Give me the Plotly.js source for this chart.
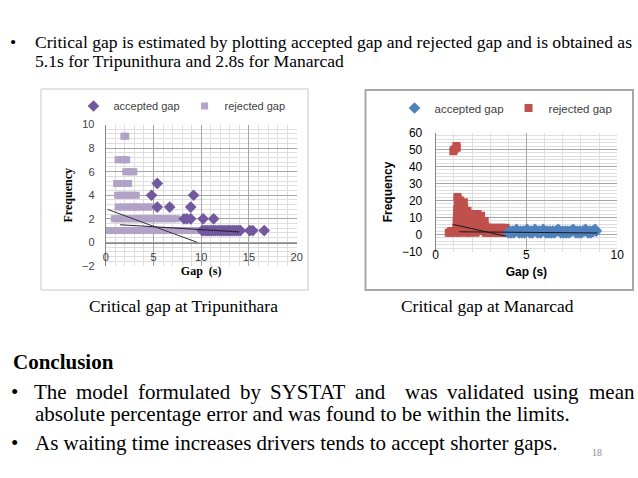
<!DOCTYPE html>
<html>
<head>
<meta charset="utf-8">
<script src="https://cdn.plot.ly/plotly-3.0.1.min.js"></script>
<style>html,body{margin:0;padding:0;background:#fff;}#chart{width:638px;height:478px;}</style>
</head>
<body>
<div id="chart"></div>
<script>
// ---------- Tripunithara (left chart) ----------
const gapsRejT = [
  1.9, 2.1,
  1.3, 1.6, 1.9, 2.2,
  2.1, 2.4, 2.7, 2.95,
  1.15, 1.45, 1.8, 2.1, 2.4,
  1.25, 1.55, 1.9, 2.2, 2.5, 2.8, 3.2,
  1.3, 1.6, 1.9, 2.3, 2.6, 2.9, 3.2, 3.5, 3.9, 4.2, 4.5, 4.8,
  0.9, 1.2, 1.5, 1.8, 2.1, 2.4, 2.7, 3.0, 3.3, 3.6, 3.9, 4.2, 4.5, 4.8, 5.1, 5.4, 5.7, 6.0, 6.3, 6.7, 7.0, 7.4,
  0.25, 0.55, 0.85, 1.15, 1.4, 1.7, 2.0, 2.3, 2.6, 2.9, 3.2, 3.5, 3.8, 4.1, 4.4, 4.7, 5.0, 5.3, 5.6, 5.9, 6.2, 6.5, 6.8, 7.1, 7.4, 7.7, 8.0, 8.3, 8.6, 8.9, 9.2, 9.5, 9.85
];
const freqRejT = [
  9, 9,
  7, 7, 7, 7,
  6, 6, 6, 6,
  5, 5, 5, 5, 5,
  4, 4, 4, 4, 4, 4, 4,
  3, 3, 3, 3, 3, 3, 3, 3, 3, 3, 3, 3,
  2, 2, 2, 2, 2, 2, 2, 2, 2, 2, 2, 2, 2, 2, 2, 2, 2, 2, 2, 2, 2, 2,
  1, 1, 1, 1, 1, 1, 1, 1, 1, 1, 1, 1, 1, 1, 1, 1, 1, 1, 1, 1, 1, 1, 1, 1, 1, 1, 1, 1, 1, 1, 1, 1, 1
];
const gapsAccT = [
  5.4, 4.8, 9.2, 5.4, 6.7, 8.9,
  8.2, 8.5, 8.9, 10.2, 11.3,
  10.1, 10.3, 10.5, 10.7, 10.9, 11.1, 11.3, 11.5, 11.7, 11.9, 12.1, 12.3, 12.5, 12.7, 12.9, 13.1, 13.3, 13.5, 13.7, 13.9, 14.1,
  15.1, 15.4, 16.6
];
const freqAccT = [
  5, 4, 4, 3, 3, 3,
  2, 2, 2, 2, 2,
  1, 1, 1, 1, 1, 1, 1, 1, 1, 1, 1, 1, 1, 1, 1, 1, 1, 1, 1, 1, 1,
  1, 1, 1
];
const trendRejTx = [0.2, 9.6];
const trendRejTy = [2.8, 0.0];
const trendAccTx = [1.5, 14.0];
const trendAccTy = [1.5, 0.9];

// ---------- Manarcad (right chart) ----------
const gapsRejM = [
  0.72, 0.8, 0.85,
  0.97, 1.02, 1.14, 1.16,
  1.12, 1.13, 1.15, 1.17, 1.18,
  1.2, 1.21, 1.22, 1.23, 1.24, 1.25, 1.26, 1.27, 1.28,
  1.35, 1.37, 1.4, 1.42, 1.44, 1.45,
  1.55, 1.57, 1.6, 1.62, 1.64, 1.65,
  1.75, 1.78, 1.8, 1.83, 1.85,
  1.95, 1.98, 2.02, 2.05,
  2.1, 2.14, 2.17, 2.2,
  2.3, 2.33, 2.37, 2.4,
  2.5, 2.52, 2.55,
  2.7, 2.72, 2.75,
  2.85, 2.9, 3.0, 3.05, 3.15, 3.18, 3.3, 3.33, 3.45, 3.48, 3.6, 3.62, 3.75, 3.78, 3.85, 3.88
];
const freqRejM = [
  1, 1, 2,
  49, 50, 52, 51,
  1, 4, 8, 12, 15,
  22, 21, 19, 16, 13, 10, 7, 4, 1,
  20, 17, 13, 9, 5, 2,
  19, 16, 12, 8, 4, 1,
  14, 11, 7, 3, 1,
  12, 9, 5, 2,
  11, 8, 4, 1,
  12, 9, 6, 2,
  11, 7, 3,
  8, 5, 1,
  4, 1, 4, 1, 4, 1, 3, 1, 4, 1, 4, 1, 3, 1, 4, 1
];
const gapsAccM = [
  4.0, 4.07, 4.15, 4.22, 4.3, 4.38, 4.45, 4.52, 4.6, 4.68,
  4.75, 4.83, 4.9, 4.97, 5.03, 5.1, 5.18, 5.25, 5.33, 5.4,
  5.47, 5.55, 5.62, 5.7, 5.78, 5.85, 5.93, 6.0, 6.08, 6.15,
  6.23, 6.3, 6.38, 6.45, 6.53, 6.6, 6.68, 6.75, 6.83, 6.9,
  6.98, 7.05, 7.13, 7.2, 7.28, 7.35, 7.43, 7.5, 7.58, 7.65,
  7.73, 7.8, 7.88, 7.95, 8.03, 8.1, 8.18, 8.25, 8.33, 8.4,
  8.48, 8.55, 8.63, 8.7, 8.78, 8.85
];
const freqAccM = [
  1, 2, 1, 2, 1, 2, 3, 2, 1, 2,
  1, 2, 1, 2, 3, 2, 1, 2, 1, 2,
  3, 2, 1, 2, 1, 2, 3, 2, 1, 2,
  1, 2, 1, 2, 1, 2, 2, 3, 2, 1,
  2, 1, 2, 1, 2, 1, 2, 2, 3, 2,
  1, 2, 1, 2, 1, 2, 2, 3, 2, 1,
  2, 1, 2, 2, 3, 2
];
const trendRejMx = [0.97, 3.87];
const trendRejMy = [5.9, -1.0];
const trendAccMx = [1.3, 8.9];
const trendAccMy = [1.6, 0.9];

// ---------- texts ----------
const seriesNames = ['accepted gap', 'rejected gap'];
const axisTitlesT = ['Gap  (s)', 'Frequency'];
const axisTitlesM = ['Gap (s)', 'Frequency'];
const captions = ['Critical gap at Tripunithara', 'Critical gap at Manarcad'];
const bullet1 = ['Critical gap is estimated by plotting accepted gap and rejected gap and is obtained as', '5.1s for Tripunithura and 2.8s for Manarcad'];
const conclusionTitle = 'Conclusion';
const bullet2aWords = ['The', 'model', 'formulated', 'by', 'SYSTAT', 'and', '', 'was', 'validated', 'using', 'mean'];
const bullet2b = 'absolute percentage error and was found to be within the limits.';
const bullet3 = 'As waiting time increases drivers tends to accept shorter gaps.';
const pageNo = '18';

const W = 638, H = 478;
const px = v => v / W;
const py = v => 1 - v / H;

const serif = 'Liberation Serif, Times New Roman, serif';
const sans = 'Liberation Sans, Arial, sans-serif';

const traces = [
  {x: gapsRejT, y: freqRejT, xaxis: 'x', yaxis: 'y', type: 'scatter', mode: 'markers', name: seriesNames[1],
   legend: 'legend', legendrank: 2, marker: {symbol: 'square', size: 7, color: '#b3a2c7'}},
  {x: gapsAccT, y: freqAccT, xaxis: 'x', yaxis: 'y', type: 'scatter', mode: 'markers', name: seriesNames[0],
   legend: 'legend', legendrank: 1, marker: {symbol: 'diamond', size: 9, color: '#7358a0'}},
  {x: trendRejTx, y: trendRejTy, xaxis: 'x', yaxis: 'y', type: 'scatter', mode: 'lines', showlegend: false,
   line: {color: '#333333', width: 1}},
  {x: trendAccTx, y: trendAccTy, xaxis: 'x', yaxis: 'y', type: 'scatter', mode: 'lines', showlegend: false,
   line: {color: '#2e2440', width: 1.2}},
  {x: gapsRejM, y: freqRejM, xaxis: 'x2', yaxis: 'y2', type: 'scatter', mode: 'markers', name: seriesNames[1],
   legend: 'legend2', legendrank: 2, marker: {symbol: 'square', size: 8, color: '#c0504d'}},
  {x: gapsAccM, y: freqAccM, xaxis: 'x2', yaxis: 'y2', type: 'scatter', mode: 'markers', name: seriesNames[0],
   legend: 'legend2', legendrank: 1, marker: {symbol: 'diamond', size: 9, color: '#4f81bd'}},
  {x: trendRejMx, y: trendRejMy, xaxis: 'x2', yaxis: 'y2', type: 'scatter', mode: 'lines', showlegend: false,
   line: {color: '#1a1a1a', width: 1}},
  {x: trendAccMx, y: trendAccMy, xaxis: 'x2', yaxis: 'y2', type: 'scatter', mode: 'lines', showlegend: false,
   line: {color: '#1a1a1a', width: 1}}
];

function ann(text, x, y, opts) {
  return Object.assign({text: text, x: px(x), y: py(y), xref: 'paper', yref: 'paper', showarrow: false,
    xanchor: 'left', yanchor: 'middle', font: {family: serif, size: 21, color: '#000'}}, opts || {});
}

// justified line: measure words with the same font and spread the spare room over the gaps
function justifiedLine(words, x0, x1, y, size) {
  const ctx = document.createElement('canvas').getContext('2d');
  ctx.font = size + 'px "Liberation Serif"';
  const widths = words.map(w => w ? ctx.measureText(w).width : 0);
  const total = widths.reduce((a, b) => a + b, 0);
  const gap = (x1 - x0 - total) / (words.length - 1);
  const out = [];
  let x = x0;
  words.forEach((w, i) => {
    if (w) out.push(ann(w, x, y, {font: {family: serif, size: size, color: '#000'}}));
    x += widths[i] + gap;
  });
  return out;
}

const annotations = [
  ann('•', 13, 42, {xanchor: 'center', font: {family: serif, size: 17.6, color: '#000'}}),
  ann(bullet1[0], 33, 42, {font: {family: serif, size: 17.6, color: '#000'}}),
  ann(bullet1[1], 33, 61, {font: {family: serif, size: 17.6, color: '#000'}}),
  ann(captions[0], 183, 306, {xanchor: 'center', font: {family: serif, size: 17.4, color: '#000'}}),
  ann(captions[1], 487, 306, {xanchor: 'center', font: {family: serif, size: 17.4, color: '#000'}}),
  ann('<b>' + conclusionTitle + '</b>', 11, 362),
  ann('•', 14, 392, {xanchor: 'center'}),
  ...justifiedLine(bullet2aWords, 32, 632, 392, 21),
  ann(bullet2b, 33, 414),
  ann('•', 14, 443, {xanchor: 'center'}),
  ann(bullet3, 33, 443),
  ann(pageNo, 597, 452, {xanchor: 'center', font: {family: serif, size: 10, color: '#8c8c8c'}})
];

const shapes = [
  {type: 'rect', xref: 'paper', yref: 'paper', x0: px(41), x1: px(308), y0: py(290), y1: py(89),
   line: {color: '#c8c8c8', width: 1}, layer: 'below'},
  {type: 'rect', xref: 'paper', yref: 'paper', x0: px(365.5), x1: px(633), y0: py(290), y1: py(90),
   line: {color: '#a8a8a8', width: 2}, layer: 'below'}
];

const gridMajor = '#a6a6a6', gridMinor = '#dedede';

const layout = {
  width: W, height: H, margin: {l: 0, r: 0, t: 0, b: 0},
  paper_bgcolor: '#ffffff', plot_bgcolor: 'rgba(0,0,0,0)',
  showlegend: true,
  xaxis: {domain: [px(105.7), px(296.7)], range: [0, 20], tick0: 0, dtick: 5, anchor: 'free', position: py(242.7),
    showgrid: true, gridcolor: gridMajor, gridwidth: 1,
    minor: {dtick: 1, showgrid: true, gridcolor: gridMinor, gridwidth: 1},
    showline: true, linecolor: '#868686', linewidth: 1, zeroline: false, ticks: '',
    tickfont: {family: sans, size: 11, color: '#404040'}, ticklabelstandoff: 4,
    title: {text: '<b>' + axisTitlesT[0] + '</b>', font: {family: serif, size: 12, color: '#000'}, standoff: 4}},
  yaxis: {domain: [py(266), py(124.5)], range: [-2, 10], tick0: 0, dtick: 2, anchor: 'x',
    showgrid: true, gridcolor: gridMajor, gridwidth: 1,
    minor: {dtick: 0.4, showgrid: true, gridcolor: gridMinor, gridwidth: 1},
    showline: true, linecolor: '#868686', linewidth: 1, zeroline: false, ticks: '',
    tickfont: {family: sans, size: 11, color: '#404040'}, ticklabelstandoff: 8,
    title: {text: '<b>' + axisTitlesT[1] + '</b>', font: {family: serif, size: 12, color: '#000'}, standoff: 6}},
  xaxis2: {domain: [px(435.7), px(617.2)], range: [0, 10], tick0: 0, dtick: 5, anchor: 'free', position: py(246),
    showgrid: true, gridcolor: gridMajor, gridwidth: 1,
    minor: {dtick: 1, showgrid: true, gridcolor: gridMinor, gridwidth: 1},
    showline: false, zeroline: false, ticks: '',
    tickfont: {family: sans, size: 12, color: '#000'},
    title: {text: '<b>' + axisTitlesM[0] + '</b>', font: {family: sans, size: 12, color: '#000'}, standoff: 6}},
  yaxis2: {domain: [py(251.5), py(132.5)], range: [-10, 60], tick0: 0, dtick: 10, anchor: 'x2',
    showgrid: true, gridcolor: gridMajor, gridwidth: 1,
    minor: {dtick: 2, showgrid: true, gridcolor: gridMinor, gridwidth: 1},
    showline: true, linecolor: '#868686', linewidth: 1, zeroline: false, ticks: '',
    tickfont: {family: sans, size: 12, color: '#000'}, ticklabelstandoff: 10,
    title: {text: '<b>' + axisTitlesM[1] + '</b>', font: {family: sans, size: 12, color: '#000'}, standoff: 6}},
  legend: {orientation: 'h', x: px(182), xanchor: 'center', y: py(106), yanchor: 'middle',
    font: {family: sans, size: 11, color: '#404040'}, bgcolor: 'rgba(0,0,0,0)', itemwidth: 30, traceorder: 'normal'},
  legend2: {orientation: 'h', x: px(506), xanchor: 'center', y: py(108), yanchor: 'middle',
    font: {family: sans, size: 11.5, color: '#404040'}, bgcolor: 'rgba(0,0,0,0)', itemwidth: 30, traceorder: 'normal'},
  annotations: annotations,
  shapes: shapes
};

Plotly.newPlot('chart', traces, layout, {staticPlot: true, displayModeBar: false});
</script>
</body>
</html>
